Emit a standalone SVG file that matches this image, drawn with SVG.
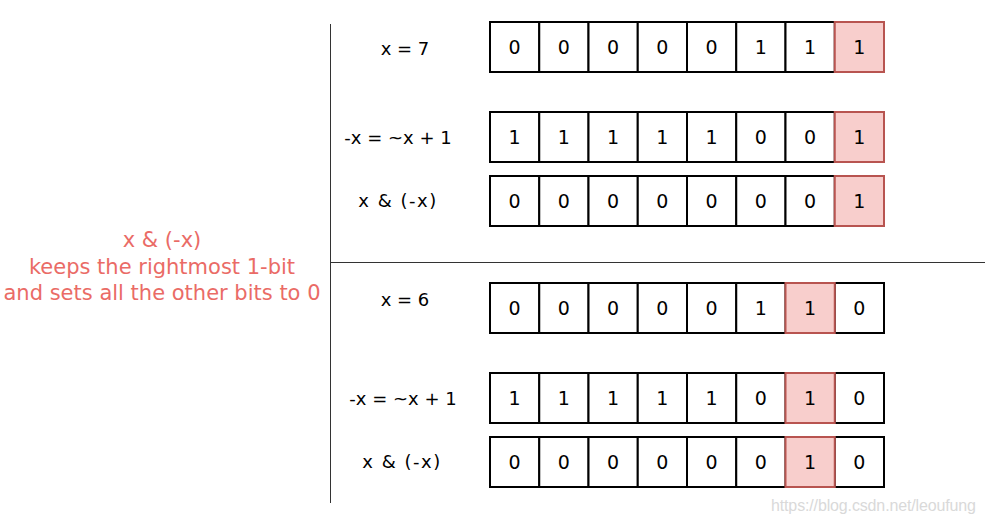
<svg xmlns="http://www.w3.org/2000/svg" width="985" height="524" viewBox="0 0 985 524">
<style>
.c{fill:#ffffff;stroke:#000000;stroke-width:2}
.r{fill:#f8cecc;stroke:#b85450;stroke-width:2}
.d{font-family:"DejaVu Sans",sans-serif;font-size:19px;fill:#000;text-anchor:middle}
.l{font-family:"DejaVu Sans",sans-serif;font-size:18px;fill:#000;text-anchor:middle}
.a{letter-spacing:1.5px}
.n{font-family:"DejaVu Sans",sans-serif;font-size:21px;fill:#ea6b66;text-anchor:middle}
.w{font-family:"Liberation Sans",Arial,sans-serif;font-size:16px;fill:#d9d9d9}
.ln{stroke:#333333;stroke-width:1;fill:none}
</style>
<rect width="985" height="524" fill="#ffffff"/>
<g id="connectors">
<line class="ln" x1="330.5" y1="24" x2="330.5" y2="503"/>
<line class="ln" x1="330" y1="262.5" x2="985" y2="262.5"/>
</g>
<g id="note">
<text class="n" x="162" y="247">x &amp; (-x)</text>
<text class="n" x="162" y="274">keeps the rightmost 1-bit</text>
<text class="n" x="162" y="300">and sets all the other bits to 0</text>
</g>
<g id="labels">
<text id="lbl1" class="l" x="405" y="55">x = 7</text>
<text id="lbl2" class="l" x="398" y="144">-x = ~x + 1</text>
<text id="lbl3" class="l a" x="398" y="207">x &amp; (-x)</text>
<text id="lbl4" class="l" x="405" y="306">x = 6</text>
<text id="lbl5" class="l" x="403" y="405">-x = ~x + 1</text>
<text id="lbl6" class="l a" x="402" y="468">x &amp; (-x)</text>
</g>
<g id="row1">
<rect class="c" x="490" y="22" width="49.25" height="50"/><text class="d" x="514.6" y="54">0</text>
<rect class="c" x="539.25" y="22" width="49.25" height="50"/><text class="d" x="563.9" y="54">0</text>
<rect class="c" x="588.5" y="22" width="49.25" height="50"/><text class="d" x="613.1" y="54">0</text>
<rect class="c" x="637.75" y="22" width="49.25" height="50"/><text class="d" x="662.4" y="54">0</text>
<rect class="c" x="687" y="22" width="49.25" height="50"/><text class="d" x="711.6" y="54">0</text>
<rect class="c" x="736.25" y="22" width="49.25" height="50"/><text class="d" x="760.9" y="54">1</text>
<rect class="c" x="785.5" y="22" width="49.25" height="50"/><text class="d" x="810.1" y="54">1</text>
<rect class="r" x="834.75" y="22" width="49.25" height="50"/><text class="d" x="859.4" y="54">1</text>
</g>
<g id="row2">
<rect class="c" x="490" y="112" width="49.25" height="50"/><text class="d" x="514.6" y="144">1</text>
<rect class="c" x="539.25" y="112" width="49.25" height="50"/><text class="d" x="563.9" y="144">1</text>
<rect class="c" x="588.5" y="112" width="49.25" height="50"/><text class="d" x="613.1" y="144">1</text>
<rect class="c" x="637.75" y="112" width="49.25" height="50"/><text class="d" x="662.4" y="144">1</text>
<rect class="c" x="687" y="112" width="49.25" height="50"/><text class="d" x="711.6" y="144">1</text>
<rect class="c" x="736.25" y="112" width="49.25" height="50"/><text class="d" x="760.9" y="144">0</text>
<rect class="c" x="785.5" y="112" width="49.25" height="50"/><text class="d" x="810.1" y="144">0</text>
<rect class="r" x="834.75" y="112" width="49.25" height="50"/><text class="d" x="859.4" y="144">1</text>
</g>
<g id="row3">
<rect class="c" x="490" y="176" width="49.25" height="50"/><text class="d" x="514.6" y="208">0</text>
<rect class="c" x="539.25" y="176" width="49.25" height="50"/><text class="d" x="563.9" y="208">0</text>
<rect class="c" x="588.5" y="176" width="49.25" height="50"/><text class="d" x="613.1" y="208">0</text>
<rect class="c" x="637.75" y="176" width="49.25" height="50"/><text class="d" x="662.4" y="208">0</text>
<rect class="c" x="687" y="176" width="49.25" height="50"/><text class="d" x="711.6" y="208">0</text>
<rect class="c" x="736.25" y="176" width="49.25" height="50"/><text class="d" x="760.9" y="208">0</text>
<rect class="c" x="785.5" y="176" width="49.25" height="50"/><text class="d" x="810.1" y="208">0</text>
<rect class="r" x="834.75" y="176" width="49.25" height="50"/><text class="d" x="859.4" y="208">1</text>
</g>
<g id="row4">
<rect class="c" x="490" y="283" width="49.25" height="50"/><text class="d" x="514.6" y="315">0</text>
<rect class="c" x="539.25" y="283" width="49.25" height="50"/><text class="d" x="563.9" y="315">0</text>
<rect class="c" x="588.5" y="283" width="49.25" height="50"/><text class="d" x="613.1" y="315">0</text>
<rect class="c" x="637.75" y="283" width="49.25" height="50"/><text class="d" x="662.4" y="315">0</text>
<rect class="c" x="687" y="283" width="49.25" height="50"/><text class="d" x="711.6" y="315">0</text>
<rect class="c" x="736.25" y="283" width="49.25" height="50"/><text class="d" x="760.9" y="315">1</text>
<rect class="c" x="834.75" y="283" width="49.25" height="50"/><text class="d" x="859.4" y="315">0</text>
<rect class="r" x="785.5" y="283" width="49.25" height="50"/><text class="d" x="810.1" y="315">1</text>
</g>
<g id="row5">
<rect class="c" x="490" y="373" width="49.25" height="50"/><text class="d" x="514.6" y="405">1</text>
<rect class="c" x="539.25" y="373" width="49.25" height="50"/><text class="d" x="563.9" y="405">1</text>
<rect class="c" x="588.5" y="373" width="49.25" height="50"/><text class="d" x="613.1" y="405">1</text>
<rect class="c" x="637.75" y="373" width="49.25" height="50"/><text class="d" x="662.4" y="405">1</text>
<rect class="c" x="687" y="373" width="49.25" height="50"/><text class="d" x="711.6" y="405">1</text>
<rect class="c" x="736.25" y="373" width="49.25" height="50"/><text class="d" x="760.9" y="405">0</text>
<rect class="c" x="834.75" y="373" width="49.25" height="50"/><text class="d" x="859.4" y="405">0</text>
<rect class="r" x="785.5" y="373" width="49.25" height="50"/><text class="d" x="810.1" y="405">1</text>
</g>
<g id="row6">
<rect class="c" x="490" y="437" width="49.25" height="50"/><text class="d" x="514.6" y="469">0</text>
<rect class="c" x="539.25" y="437" width="49.25" height="50"/><text class="d" x="563.9" y="469">0</text>
<rect class="c" x="588.5" y="437" width="49.25" height="50"/><text class="d" x="613.1" y="469">0</text>
<rect class="c" x="637.75" y="437" width="49.25" height="50"/><text class="d" x="662.4" y="469">0</text>
<rect class="c" x="687" y="437" width="49.25" height="50"/><text class="d" x="711.6" y="469">0</text>
<rect class="c" x="736.25" y="437" width="49.25" height="50"/><text class="d" x="760.9" y="469">0</text>
<rect class="c" x="834.75" y="437" width="49.25" height="50"/><text class="d" x="859.4" y="469">0</text>
<rect class="r" x="785.5" y="437" width="49.25" height="50"/><text class="d" x="810.1" y="469">1</text>
</g>
<text id="watermark" class="w" x="771" y="511" textLength="205">https://blog.csdn.net/leoufung</text>
</svg>
